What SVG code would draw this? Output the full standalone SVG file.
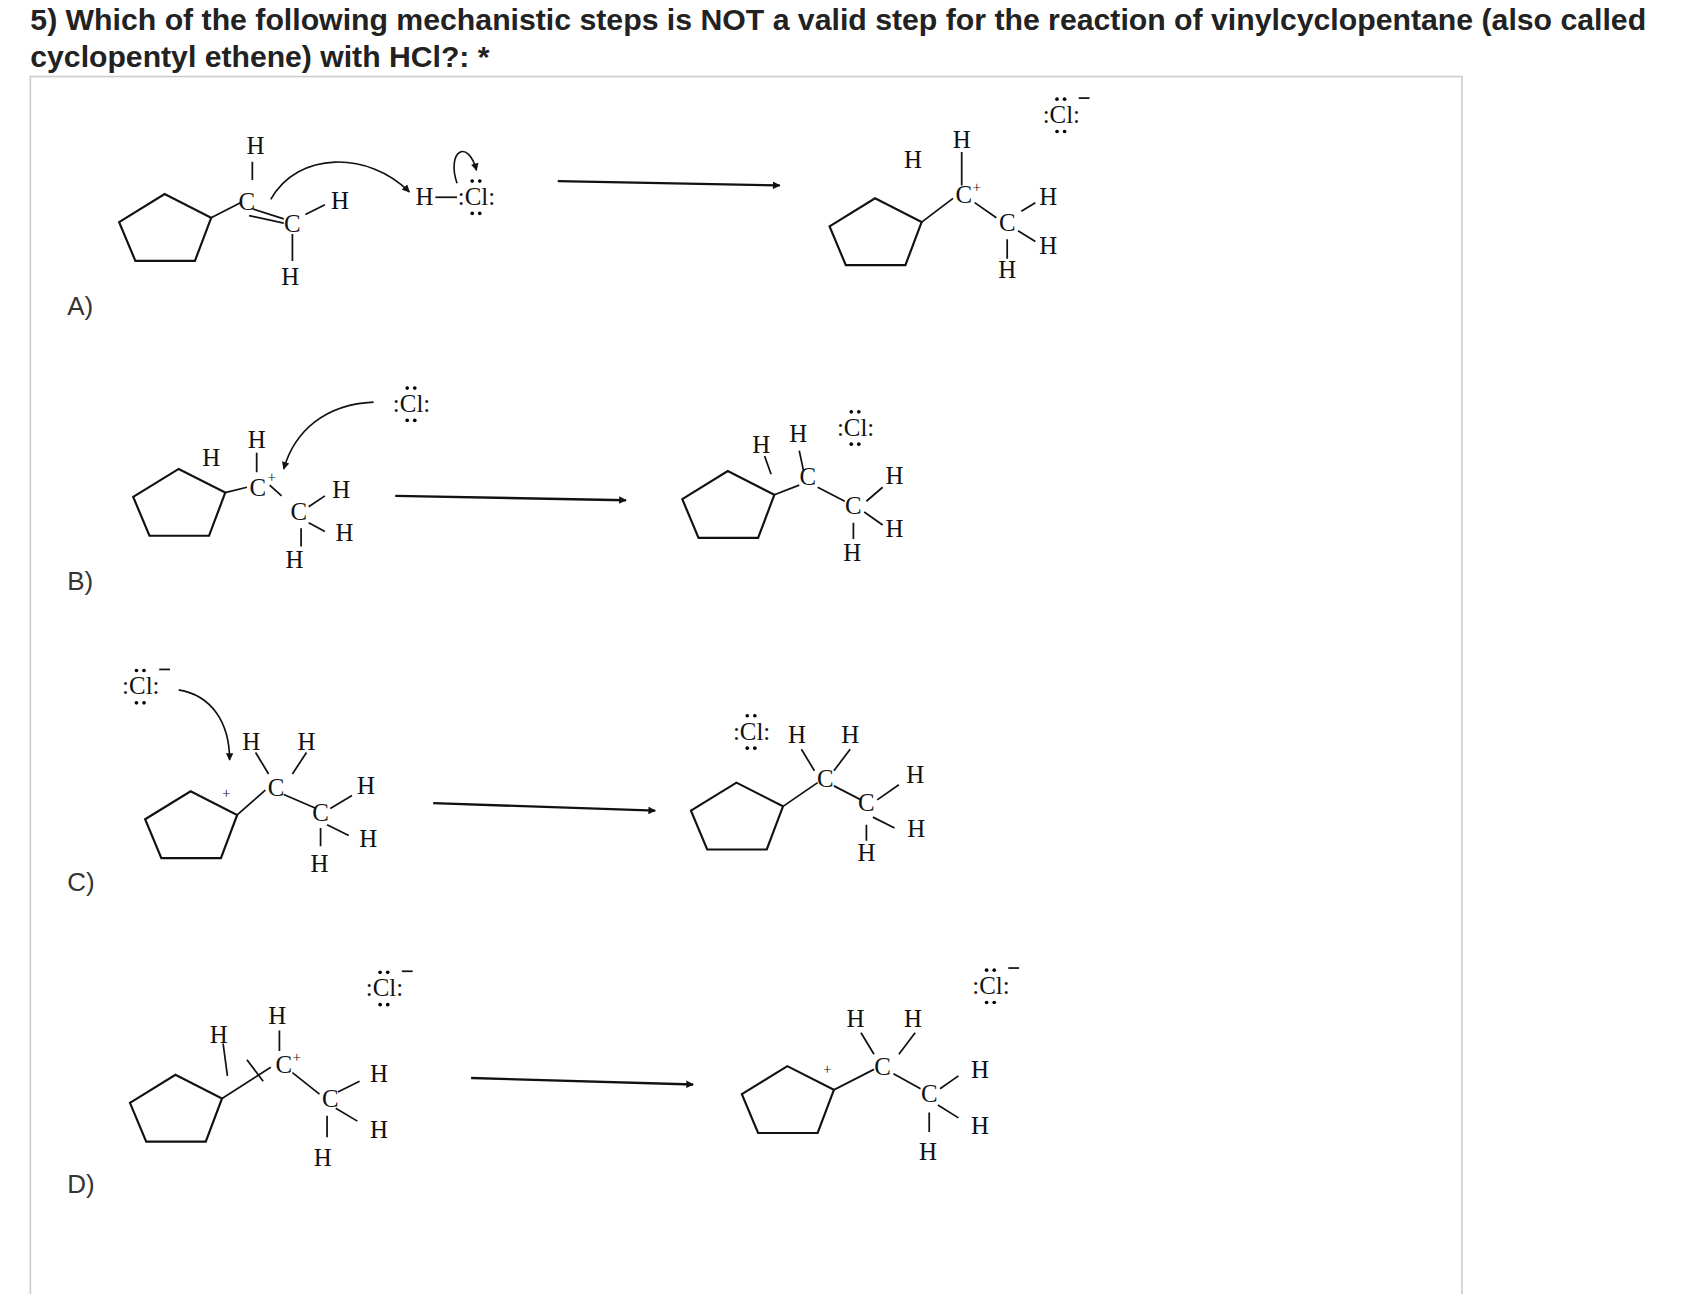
<svg xmlns="http://www.w3.org/2000/svg" width="1696" height="1294" viewBox="0 0 1696 1294">
<style>
.q{font-family:"Liberation Sans",Arial,sans-serif;font-weight:bold;font-size:27px;fill:#222}
.lab{font-family:"Liberation Sans",Arial,sans-serif;font-size:24px;fill:#333}
.a{font-family:"Liberation Serif","Times New Roman",serif;font-size:23px;fill:#111;text-anchor:middle}
.s{font-family:"Liberation Serif",serif;font-size:14px;fill:#111}
.b{stroke:#111;stroke-width:1.6;fill:none}
.ar{stroke:#111;stroke-width:2.2;fill:none;marker-end:url(#ah)}
.cv{stroke:#111;stroke-width:1.5;fill:none;marker-end:url(#ah2)}
</style>
<defs>
<marker id="ah" viewBox="0 0 10 10" refX="9" refY="5" markerWidth="11" markerHeight="7" orient="auto" markerUnits="userSpaceOnUse"><path d="M0,0L10,5L0,10Z" fill="#111"/></marker>
<marker id="ah2" viewBox="0 0 10 10" refX="9" refY="5" markerWidth="9" markerHeight="7" orient="auto" markerUnits="userSpaceOnUse"><path d="M0,0L10,5L0,10Z" fill="#111"/></marker>
<path id="pent" d="M-42,-2L0,-28L43,-6L28,34L-27,34Z" stroke="#111" stroke-width="2" fill="none"/>
<g id="cl"><text class="a" x="0" y="0">:Cl:</text><circle cx="-4" cy="-22" r="1.7"/><circle cx="3" cy="-22" r="1.7"/><circle cx="-4" cy="8" r="1.7"/><circle cx="3" cy="8" r="1.7"/></g>
</defs>
<g transform="scale(1.083,1.078)">
<text class="q" x="28" y="28" textLength="1492" lengthAdjust="spacingAndGlyphs">5) Which of the following mechanistic steps is NOT a valid step for the reaction of vinylcyclopentane (also called</text>
<text class="q" x="28" y="62" textLength="424" lengthAdjust="spacingAndGlyphs">cyclopentyl ethene) with HCl?: *</text>
<rect x="28" y="71" width="1322" height="1140" fill="none" stroke="#ccc" stroke-width="1.5"/>
<text class="lab" x="62" y="292">A)</text>
<text class="lab" x="62" y="547">B)</text>
<text class="lab" x="62" y="827">C)</text>
<text class="lab" x="62" y="1107">D)</text>

<g id="molA1">
<use href="#pent" x="152" y="208"/>
<path class="b" d="M195,202L222,188M233,150L233,167M230,200L262,207M234,194L262,203M270,217L270,242M282,199L300,190"/>
<text class="a" x="236" y="143">H</text><text class="a" x="228" y="195">C</text><text class="a" x="270" y="215">C</text><text class="a" x="314" y="194">H</text><text class="a" x="268" y="264">H</text>
<text class="a" x="392" y="190">H</text><path class="b" d="M402,183L422,183"/><use href="#cl" x="440" y="190"/>
</g>
<g id="molA2">
<use href="#pent" x="808" y="212"/>
<path class="b" d="M851,206L880,184M888,141L888,172M900,188L920,202M943,196L956,188M940,214L956,224M930,222L930,240"/>
<text class="a" x="888" y="137">H</text><text class="a" x="843" y="156">H</text><text class="a" x="890" y="188">C</text><text class="s" x="898" y="178">+</text>
<text class="a" x="930" y="214">C</text><text class="a" x="968" y="190">H</text><text class="a" x="968" y="236">H</text><text class="a" x="930" y="258">H</text>
<use href="#cl" x="980" y="114"/><path class="b" d="M996,91L1006,91"/>
</g>
<g id="molB1">
<use href="#pent" x="165" y="463"/>
<path class="b" d="M208,457L228,452M237,420L237,438M249,450L260,460M285,470L300,460M285,485L300,493M278,490L278,507"/>
<text class="a" x="195" y="432">H</text><text class="a" x="237" y="416">H</text><text class="a" x="238" y="460">C</text><text class="s" x="247" y="447">+</text>
<text class="a" x="276" y="482">C</text><text class="a" x="315" y="462">H</text><text class="a" x="318" y="502">H</text><text class="a" x="272" y="527">H</text>
<use href="#cl" x="380" y="382"/>
</g>
<g id="molB2">
<use href="#pent" x="672" y="465"/>
<path class="b" d="M715,459L738,450M706,423L712,440M738,418L742,437M755,452L780,465M800,465L815,452M798,475L815,487M788,485L788,500"/>
<text class="a" x="703" y="420">H</text><text class="a" x="737" y="410">H</text><use href="#cl" x="790" y="404"/>
<text class="a" x="746" y="450">C</text><text class="a" x="788" y="477">C</text><text class="a" x="826" y="449">H</text><text class="a" x="826" y="498">H</text><text class="a" x="787" y="520">H</text>
</g>
<g id="molC1">
<use href="#pent" x="176" y="762"/>
<path class="b" d="M219,756L245,733M236,698L248,718M283,698L270,718M262,737L292,750M305,750L325,738M302,765L322,775M296,768L296,785"/>
<text class="s" x="205" y="740">+</text>
<text class="a" x="232" y="696">H</text><text class="a" x="283" y="696">H</text><text class="a" x="255" y="738">C</text>
<text class="a" x="296" y="762">C</text><text class="a" x="338" y="737">H</text><text class="a" x="340" y="786">H</text><text class="a" x="295" y="809">H</text>
<use href="#cl" x="130" y="644"/><path class="b" d="M147,621L157,621"/>
</g>
<g id="molC2">
<use href="#pent" x="680" y="754"/>
<path class="b" d="M723,748L755,726M740,695L752,715M785,695L770,715M770,729L795,742M810,742L830,728M806,758L826,768M800,765L800,780"/>
<use href="#cl" x="694" y="686"/>
<text class="a" x="736" y="689">H</text><text class="a" x="785" y="689">H</text><text class="a" x="762" y="730">C</text>
<text class="a" x="800" y="752">C</text><text class="a" x="845" y="726">H</text><text class="a" x="846" y="776">H</text><text class="a" x="800" y="799">H</text>
</g>
<g id="molD1">
<use href="#pent" x="162" y="1025"/>
<path class="b" d="M205,1019L250,990M228,983L243,1003M206,968L210,998M258,956L258,975M270,995L295,1015M312,1013L332,1003M310,1028L330,1040M302,1035L302,1055"/>
<text class="a" x="202" y="968">H</text><text class="a" x="256" y="950">H</text><text class="a" x="262" y="995">C</text><text class="s" x="270" y="985">+</text>
<text class="a" x="305" y="1027">C</text><text class="a" x="350" y="1004">H</text><text class="a" x="350" y="1056">H</text><text class="a" x="298" y="1082">H</text>
<use href="#cl" x="355" y="924"/><path class="b" d="M371,901L381,901"/>
</g>
<g id="molD2">
<use href="#pent" x="727" y="1017"/>
<path class="b" d="M770,1011L807,992M795,958L807,978M845,958L830,978M825,996L850,1010M868,1010L885,998M866,1025L885,1037M858,1032L858,1050"/>
<text class="s" x="760" y="996">+</text>
<text class="a" x="790" y="953">H</text><text class="a" x="843" y="953">H</text><text class="a" x="815" y="997">C</text>
<text class="a" x="858" y="1022">C</text><text class="a" x="905" y="1000">H</text><text class="a" x="905" y="1052">H</text><text class="a" x="857" y="1076">H</text>
<use href="#cl" x="915" y="922"/><path class="b" d="M931,898L941,898"/>
</g>
<g id="connectors">
<path class="ar" d="M515,168L720,172"/>
<path class="ar" d="M365,460L578,464"/>
<path class="ar" d="M400,745L605,752"/>
<path class="ar" d="M435,1000L640,1006"/>
<path class="cv" d="M250,185C275,140 340,140 378,178"/>
<path class="cv" d="M422,170C412,140 432,128 440,158"/>
<path class="cv" d="M345,373C300,375 272,400 262,435"/>
<path class="cv" d="M165,640C195,645 212,670 212,705"/>
</g>
</g>
</svg>
